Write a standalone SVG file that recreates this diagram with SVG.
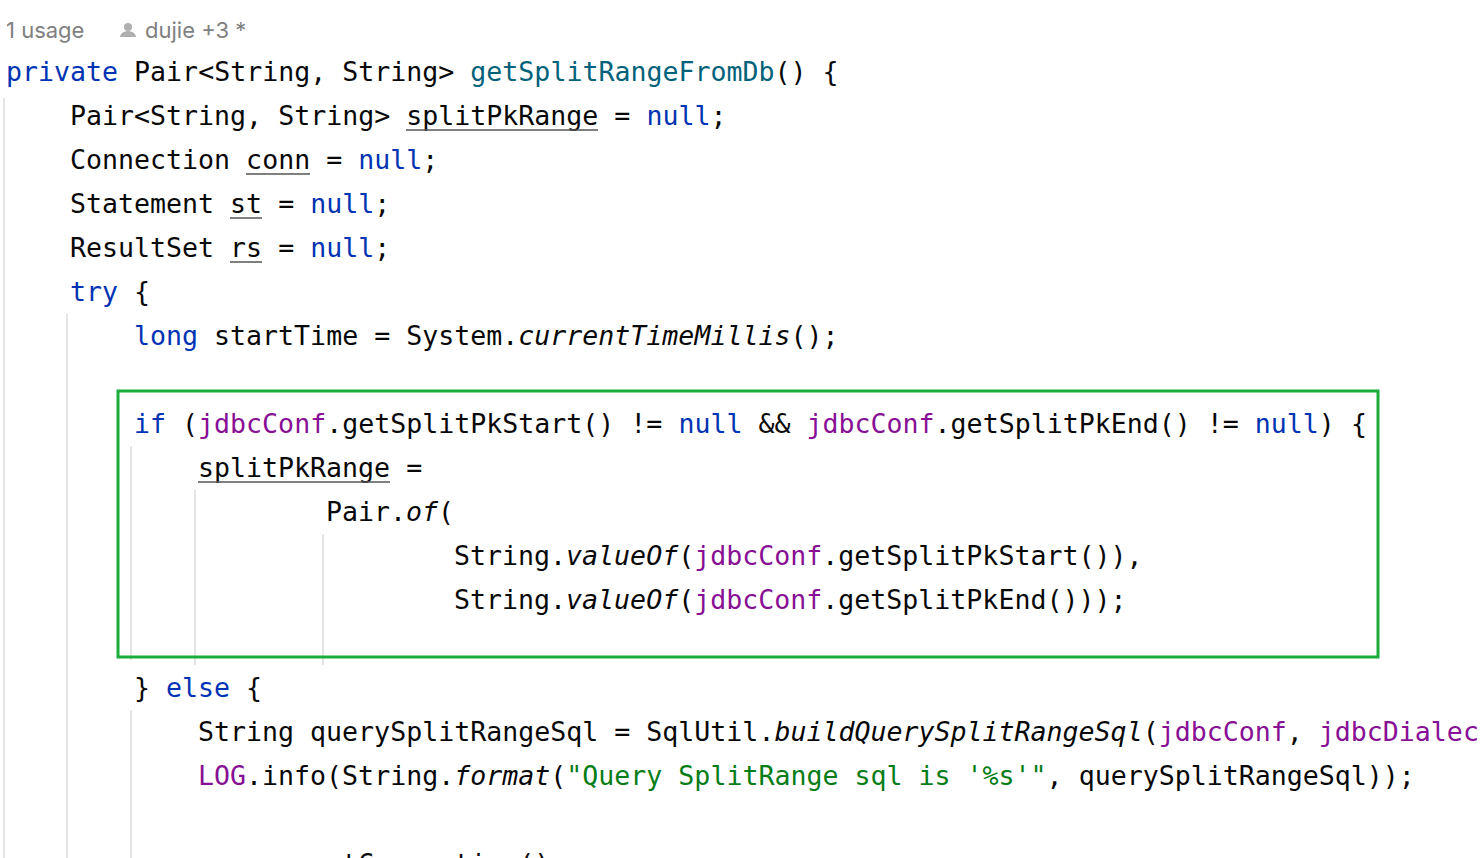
<svg xmlns="http://www.w3.org/2000/svg" width="1480" height="858" viewBox="0 0 1480 858">
<style>
.c{font-family:"DejaVu Sans Mono","Liberation Mono",monospace;font-size:26.6px;fill:#080808;white-space:pre}
.k{fill:#0033b3}.m{fill:#00627a}.p{fill:#871094}.s{fill:#067d17}.i{font-style:italic}
.g{fill:none;stroke:#e4e4e4;stroke-width:2}
.u{stroke:#555;stroke-width:1.5}
.h{font-family:Inter,"Noto Sans",sans-serif;font-size:22px;fill:#808080}
</style>
<rect width="1480" height="858" fill="#fff"/>
<g id="guides">
<line class="g" x1="4" y1="98" x2="4" y2="858"/>
<line class="g" x1="67" y1="314" x2="67" y2="858"/>
<line class="g" x1="131" y1="446" x2="131" y2="660"/>
<line class="g" x1="131" y1="710" x2="131" y2="858"/>
<line class="g" x1="195" y1="490" x2="195" y2="665"/>
<line class="g" x1="323" y1="534" x2="323" y2="665"/>
</g>
<g id="header">
<text class="h" x="6" y="38">1 usage</text>
<circle cx="128" cy="27" r="4" fill="#b0b0b0"/>
<path d="M120 37 a8 6 0 0 1 16 0 z" fill="#b0b0b0"/>
<text class="h" x="145" y="38">dujie +3 *</text>
</g>
<g id="code">
<text class="c" x="6" y="81"><tspan class="k">private</tspan> Pair&lt;String, String&gt; <tspan class="m">getSplitRangeFromDb</tspan>() {</text>
<text class="c" x="70" y="125">Pair&lt;String, String&gt; splitPkRange = <tspan class="k">null</tspan>;</text>
<text class="c" x="70" y="169">Connection conn = <tspan class="k">null</tspan>;</text>
<text class="c" x="70" y="213">Statement st = <tspan class="k">null</tspan>;</text>
<text class="c" x="70" y="257">ResultSet rs = <tspan class="k">null</tspan>;</text>
<text class="c" x="70" y="301"><tspan class="k">try</tspan> {</text>
<text class="c" x="134" y="345"><tspan class="k">long</tspan> startTime = System.<tspan class="i">currentTimeMillis</tspan>();</text>
<text class="c" x="134" y="433"><tspan class="k">if</tspan> (<tspan class="p">jdbcConf</tspan>.getSplitPkStart() != <tspan class="k">null</tspan> &amp;&amp; <tspan class="p">jdbcConf</tspan>.getSplitPkEnd() != <tspan class="k">null</tspan>) {</text>
<text class="c" x="198" y="477">splitPkRange =</text>
<text class="c" x="326" y="521">Pair.<tspan class="i">of</tspan>(</text>
<text class="c" x="454" y="565">String.<tspan class="i">valueOf</tspan>(<tspan class="p">jdbcConf</tspan>.getSplitPkStart()),</text>
<text class="c" x="454" y="609">String.<tspan class="i">valueOf</tspan>(<tspan class="p">jdbcConf</tspan>.getSplitPkEnd()));</text>
<text class="c" x="134" y="697">} <tspan class="k">else</tspan> {</text>
<text class="c" x="198" y="741">String querySplitRangeSql = SqlUtil.<tspan class="i">buildQuerySplitRangeSql</tspan>(<tspan class="p">jdbcConf</tspan>, <tspan class="p">jdbcDialect</tspan>);</text>
<text class="c" x="198" y="785"><tspan class="p">LOG</tspan>.info(String.<tspan class="i">format</tspan>(<tspan class="s">"Query SplitRange sql is '%s'"</tspan>, querySplitRangeSql));</text>
<text class="c" x="198" y="873">conn = getConnection();</text>
</g>
<g id="underlines">
<line class="u" x1="406" y1="130" x2="598" y2="130"/>
<line class="u" x1="246" y1="174" x2="310" y2="174"/>
<line class="u" x1="230" y1="218" x2="262" y2="218"/>
<line class="u" x1="230" y1="262" x2="262" y2="262"/>
<line class="u" x1="198" y1="482" x2="390" y2="482"/>
</g>
<g id="highlight">
<rect x="118" y="391" width="1260" height="266" fill="none" stroke="#1aad3a" stroke-width="3"/>
</g>
</svg>
